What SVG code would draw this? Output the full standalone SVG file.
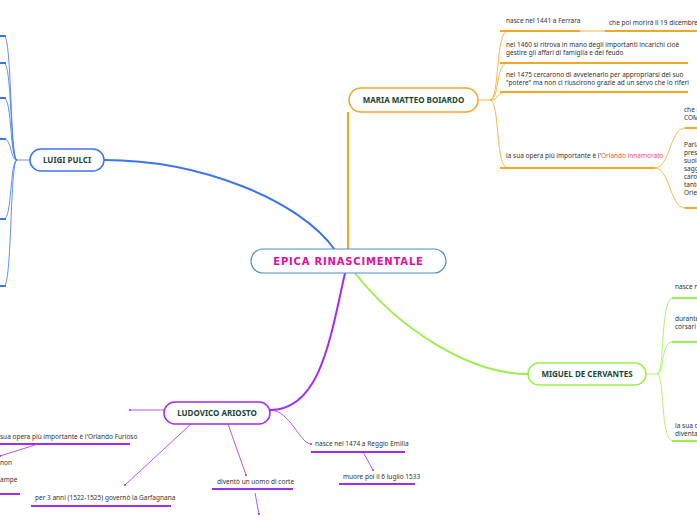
<svg xmlns="http://www.w3.org/2000/svg" width="697" height="520" viewBox="0 0 697 520">
<style>
text{font-family:"Noto Sans","Open Sans",sans-serif;font-size:6.5px;fill:#333}
.n{font-size:8px;font-weight:bold;fill:#1a4638;text-anchor:middle}
.o{stroke:#f5a623;fill:none}.b{stroke:#3a74ee;fill:none}.g{stroke:#9af04a;fill:none}.p{stroke:#a52bf0;fill:none}
.ul{stroke-width:2}.t{stroke-width:0.8}
</style>
<rect width="697" height="520" fill="#fff"/>
<g id="connectors">
<path class="o" stroke-width="2" d="M348 249 V112"/>
<path class="b" stroke-width="2" d="M104 160 C200 160 300 200 335 250"/>
<path class="g" stroke-width="2" d="M355 273 C400 330 470 374 528 374"/>
<path class="p" stroke-width="2" d="M345 273 C330 340 320 410 270 410"/>
<g class="o t"><path d="M478 100 H490 C500 100 495 31 508 31"/><path d="M490 100 C500 100 495 63 508 63"/><path d="M490 100 C500 100 495 92 508 92"/><path d="M490 100 C500 100 495 168 508 168"/><path d="M655 168 C670 168 670 128 685 128"/><path d="M655 168 C670 168 670 208 685 208"/></g>
<g class="o ul"><path d="M500 31 H580"/><path d="M605 31 H697" /><path d="M500 63 H688"/><path d="M500 92 H688"/><path d="M500 168 H655"/><path d="M685 128 H697"/><path d="M685 208 H697"/></g>
<path d="M580 31 H605" stroke="#fbd9a0" stroke-width="2"/>
<g class="b t"><path d="M30 160 H17 C10 160 12 36 4 36"/><path d="M17 160 C10 160 12 63 4 63"/><path d="M17 160 C10 160 12 98 4 98"/><path d="M17 160 C10 160 12 139 4 139"/><path d="M17 160 C10 160 12 219 4 219"/><path d="M17 160 C10 160 12 286 4 286"/></g>
<g class="b ul"><path d="M0 36 H6"/><path d="M0 63 H6"/><path d="M0 98 H6"/><path d="M0 139 H6"/><path d="M0 219 H6"/><path d="M0 286 H6"/></g>
<g class="g t"><path d="M646 374 H657 C665 374 660 298 673 298"/><path d="M657 374 C665 374 660 342 673 342"/><path d="M657 374 C665 374 660 441 673 441"/></g>
<g class="g ul"><path d="M672 298 H697"/><path d="M672 342 H697"/><path d="M672 441 H697"/></g>
<g class="p t"><path d="M270 410 C290 410 300 444 311 444"/><path d="M363 452 L373 470"/><path d="M228 424 L246 475"/><path d="M191 424 L125 485"/><path d="M164 410 H130"/><path d="M35 445 L0 456"/><path d="M255 493 L259 514"/></g>
<g class="p ul"><path d="M311 452 H405"/><path d="M339 484 H415"/><path d="M212 489 H293"/><path d="M31 506 H171"/><path d="M0 444 H130"/><path d="M0 494 H20"/></g>
<g fill="#a52bf0"><circle cx="130" cy="410" r="1"/><circle cx="311" cy="444" r="1"/><circle cx="373" cy="470" r="1"/><circle cx="246" cy="475" r="1"/><circle cx="125" cy="485" r="1"/><circle cx="0" cy="456" r="1"/><circle cx="259" cy="514" r="1"/></g>
</g>
<g id="center"><rect x="251" y="249" width="195" height="24" rx="12" fill="#fff" stroke="#4a90c8" stroke-width="1.2"/><text x="348.5" y="265" class="n" style="fill:#e0109e;font-size:10px;letter-spacing:0.8px;font-family:'DejaVu Sans',sans-serif">EPICA RINASCIMENTALE</text></g>
<g id="boiardo"><rect x="349" y="88" width="129" height="24" rx="12" fill="#fff" stroke="#f5a623" stroke-width="1.5"/><text x="413.5" y="103" class="n">MARIA MATTEO BOIARDO</text>
<text x="506" y="23">nasce nel 1441 a Ferrara</text><text x="609" y="25">che poi morirà il 19 dicembre 1494</text>
<text x="506" y="47">nel 1460 si ritrova in mano degli importanti incarichi cioè</text><text x="506" y="55">gestire gli affari di famiglia e del feudo</text>
<text x="506" y="77">nel 1475 cercarono di avvelenarlo per appropriarsi del suo</text><text x="506" y="85">"potere" ma non ci riuscirono grazie ad un servo che lo riferì</text>
<text x="506" y="158">la sua opera più importante è l'<tspan fill="#f0504a">Orlando innamorato</tspan></text>
<text x="684" y="112">che i</text><text x="684" y="120">COM</text>
<text x="684" y="147">Parla</text><text x="684" y="155">pres</text><text x="684" y="163">suoi</text><text x="684" y="171">sagg</text><text x="684" y="179">caro</text><text x="684" y="187">tanto</text><text x="684" y="195">Orie</text></g>
<g id="pulci"><rect x="30" y="149" width="74" height="22" rx="11" fill="#fff" stroke="#3a74ee" stroke-width="1.5"/><text x="67" y="163" class="n">LUIGI PULCI</text></g>
<g id="cervantes"><rect x="528" y="363" width="118" height="22" rx="11" fill="#fff" stroke="#9af04a" stroke-width="1.5"/><text x="587" y="377" class="n">MIGUEL DE CERVANTES</text>
<text x="675" y="289">nasce n</text><text x="675" y="321">durante</text><text x="675" y="329">corsari d</text><text x="675" y="428">la sua  o</text><text x="675" y="436">diventar</text></g>
<g id="ariosto"><rect x="164" y="402" width="106" height="22" rx="11" fill="#fff" stroke="#a52bf0" stroke-width="1.5"/><text x="217" y="416" class="n">LUDOVICO ARIOSTO</text>
<text x="0" y="439">sua opera più importante è l'Orlando Furioso</text><text x="0" y="465">non</text><text x="0" y="482">ampe</text>
<text x="315" y="446">nasce nel 1474 a Reggio Emilia</text><text x="343" y="479">muore poi il 6 luglio 1533</text>
<text x="217" y="484">diventò un uomo di corte</text><text x="35" y="500">per 3 anni (1522-1525) governò la Garfagnana</text></g>
</svg>
